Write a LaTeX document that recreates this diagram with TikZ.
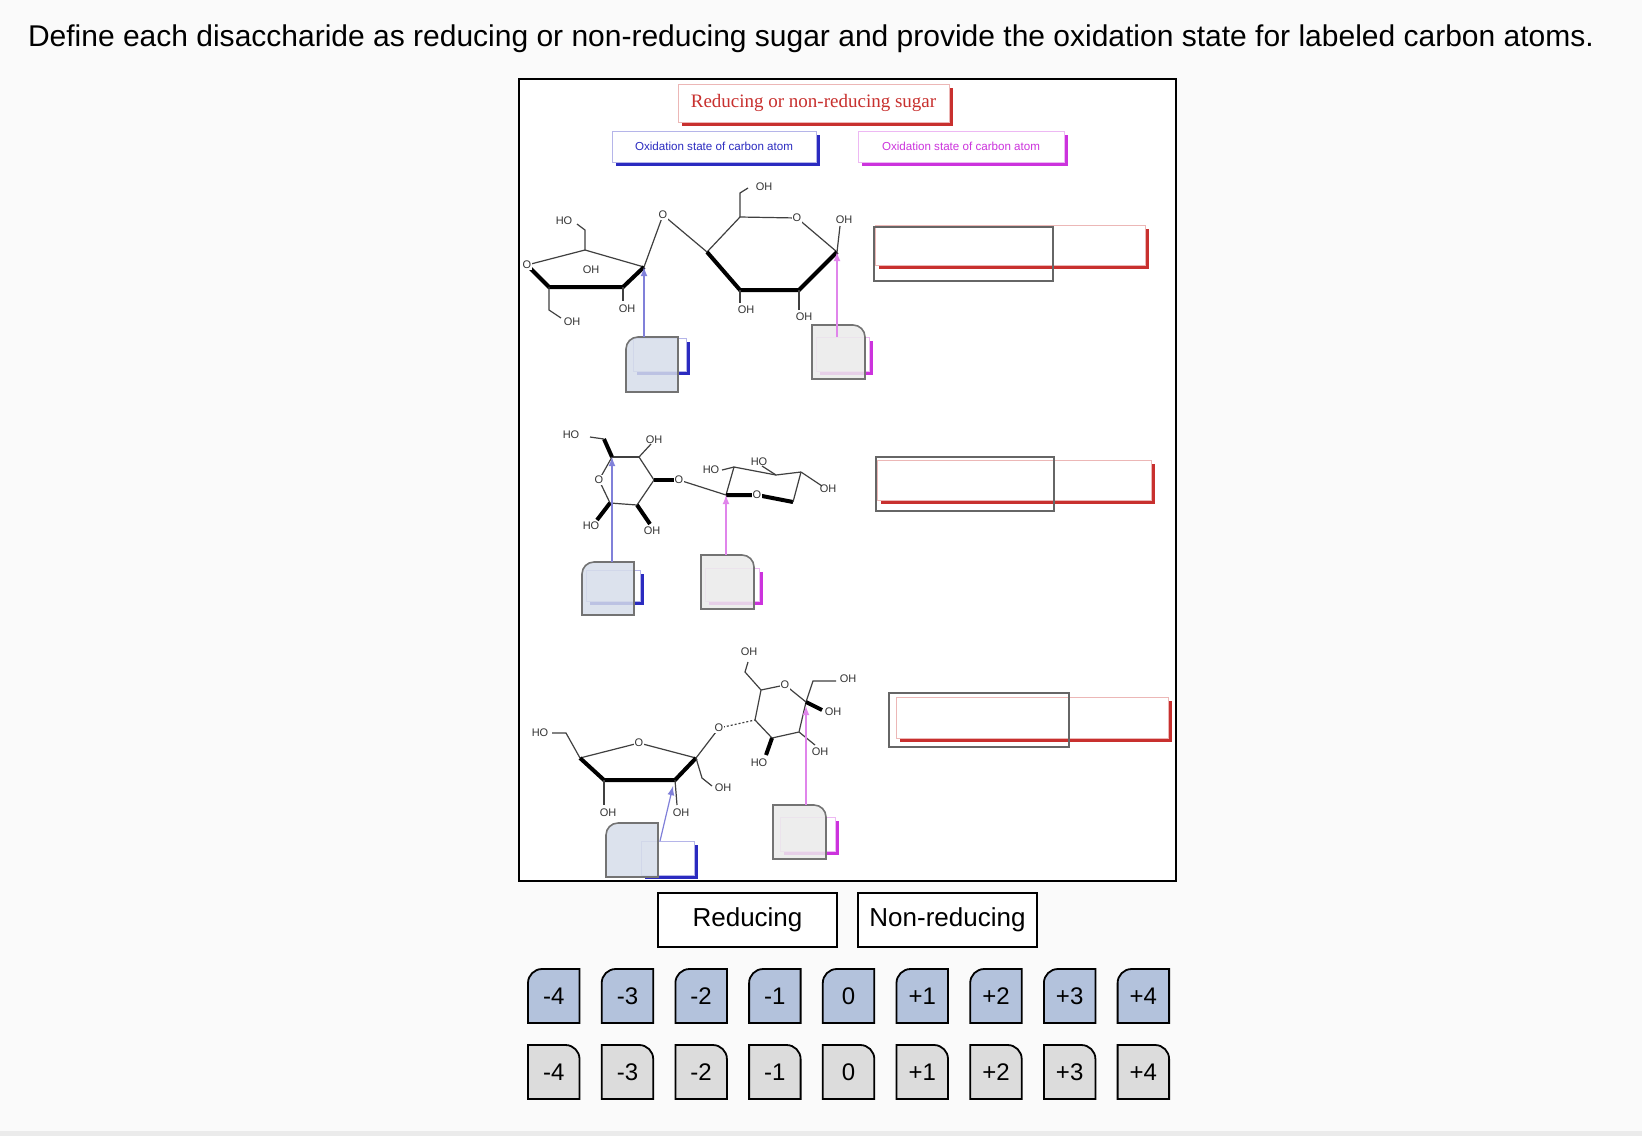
\documentclass[tikz,border=0pt]{standalone}
\usepackage{fontspec}
\setmainfont{Liberation Sans}
\newfontfamily\serifont{Liberation Serif}
\definecolor{bg}{HTML}{FAFAFA}
\definecolor{tileblue}{HTML}{B3C2DC}
\definecolor{tilegray}{HTML}{DCDCDC}
\definecolor{placeblue}{HTML}{D6DDEA}
\definecolor{placegray}{HTML}{EBEBEB}
\definecolor{rbox}{HTML}{C8302E}
\definecolor{bbox}{HTML}{2B2BC0}
\definecolor{mbox}{HTML}{CC33DD}
\tikzset{
  bond/.style={line width=0.6pt, black!75},
  bold/.style={line width=2pt, black},
  lab/.style={font=\fontsize{5.5}{6}\selectfont, inner sep=0.5pt, text=black!80},
  ptr b/.style={line width=0.6pt, bbox!60},
  ptr m/.style={line width=0.6pt, mbox!60},
  btn/.style={draw=black, line width=0.9pt, fill=white, font=\fontsize{13}{15}\selectfont},
  tile/.style={draw=black, line width=0.9pt},
}
\newcommand{\tileB}[5]{%
  \draw[tile,fill=tileblue] (#2,#5) [rounded corners=7pt]-- (#2,#3) [sharp corners]-- (#4,#3) -- (#4,#5) -- cycle;
  \coordinate (#1) at ({(#2+#4)/2},{(#3+#5)/2});}
\newcommand{\tileG}[5]{%
  \draw[tile,fill=tilegray] (#2,#5) -- (#2,#3) [rounded corners=7pt]-- (#4,#3) [sharp corners]-- (#4,#5) -- cycle;
  \coordinate (#1) at ({(#2+#4)/2},{(#3+#5)/2});}
\newcommand{\placeB}[5]{\draw[black!55,line width=0.8pt,fill=placeblue,fill opacity=0.85] (#2,#5) [rounded corners=6pt]-- (#2,#3) [sharp corners]-- (#4,#3) -- (#4,#5) -- cycle; \coordinate (#1) at ({(#2+#4)/2},#3);}
\newcommand{\placeG}[5]{\draw[black!55,line width=0.8pt,fill=placegray,fill opacity=0.85] (#2,#5) -- (#2,#3) [rounded corners=6pt]-- (#4,#3) [sharp corners]-- (#4,#5) -- cycle; \coordinate (#1) at ({(#2+#4)/2},#3);}
\newcommand{\shbox}[6]{%
  \fill[#2] (#3+3.5,#4+3.5) rectangle (#5+3.5,#6+3.5);
  \draw[#2!35,fill=white] (#3,#4) rectangle (#5,#6);
  \coordinate (#1) at ({(#3+#5)/2},{(#4+#6)/2});}
\begin{document}
\begin{tikzpicture}[x=0.5pt,y=-0.5pt]
\fill[bg] (0,0) rectangle (1642,1136);
\useasboundingbox (0,0) rectangle (1642,1136);
\fill[black!8] (0,1131) rectangle (1642,1136);
\node[font=\fontsize{15}{17}\selectfont] (title) at (811,39) {Define each disaccharide as reducing or non-reducing sugar and provide the oxidation state for labeled carbon atoms.};
\draw[fill=white,line width=1pt] (519,79) rectangle (1176,881);
% headers
\shbox{hr}{rbox}{678}{84}{949}{122}
\node[font=\serifont\fontsize{9.5}{11}\selectfont,text=rbox] at (hr) {Reducing or non-reducing sugar};
\shbox{hb}{bbox}{612}{131}{816}{162}
\node[font=\fontsize{5.8}{7}\selectfont,text=bbox] at (hb) {Oxidation state of carbon atom};
\shbox{hm}{mbox}{858}{131}{1064}{162}
\node[font=\fontsize{5.8}{7}\selectfont,text=mbox] at (hm) {Oxidation state of carbon atom};
% ===== molecule 1 =====
\coordinate (fO) at (527,265); \coordinate (fT) at (585,250); \coordinate (fR) at (644,267);
\coordinate (fBR) at (623,287); \coordinate (fBL) at (549,287);
\coordinate (bO) at (663,215);
\coordinate (p1) at (707,252); \coordinate (p2) at (740,217); \coordinate (pO) at (797,218);
\coordinate (pA) at (837,252); \coordinate (pBR) at (799,290); \coordinate (pBL) at (740,290);
\draw[bond] (fBL)--(fO)--(fT)--(fR)--(bO)--(p1)--(p2)--(pO)--(pA);
\draw[bold] (fR)--(fBR)--(fBL)--(fO);
\draw[bold] (p1)--(pBL)--(pBR)--(pA);
\draw[bond] (fT)--(585,230)--(577,224); \node[lab] at (564,221) {HO};
\node[lab] at (591,270) {OH};
\draw[bond] (fBR)--(623,301); \node[lab] at (627,309) {OH};
\draw[bond] (fBL)--(549,310)--(561,318); \node[lab] at (572,322) {OH};
\draw[bond] (p2)--(740,193)--(748,188); \node[lab] at (764,187) {OH};
\draw[bond] (pA)--(840,226); \node[lab] at (844,220) {OH};
\draw[bond] (pBR)--(799,310); \node[lab] at (804,317) {OH};
\draw[bond] (pBL)--(740,303); \node[lab] at (746,310) {OH};
\node[lab,fill=white] at (fO) {O}; \node[lab,fill=white] at (bO) {O}; \node[lab,fill=white] at (pO) {O};
\shbox{a1}{bbox}{633}{338}{686}{371}
\placeB{t1}{626}{337}{678}{392}
\draw[ptr b,-latex] (fR |- t1) -- (fR);
\shbox{a2}{mbox}{816}{337}{869}{371}
\placeG{t2}{812}{325}{865}{379}
\draw[ptr m,-latex] (pA |- 0,337) -- (pA);
\shbox{r1}{rbox}{875}{225}{1145}{265}
\draw[black!60,line width=0.8pt] (874,227) rectangle (1053,281);
% ===== molecule 2 =====
\coordinate (g5) at (612,457); \coordinate (g4) at (639,457); \coordinate (gO) at (599,480);
\coordinate (g1) at (610,503); \coordinate (g2) at (637,505); \coordinate (g3) at (654,480);
\coordinate (gbO) at (679,480);
\coordinate (x1) at (726,495); \coordinate (xO) at (757,495); \coordinate (x5) at (793,502);
\coordinate (x4) at (801,472); \coordinate (x3) at (776,475); \coordinate (x2) at (734,467);
\draw[bond] (g4)--(g5); \draw[bold] (g5)--(604,439); \draw[bond] (604,439)--(590,437); \node[lab] at (571,435) {HO};
\draw[bond] (g5)--(gO)--(g1)--(g2)--(g3)--(g4);
\draw[bond] (g4)--(651,444); \node[lab] at (654,440) {OH};
\draw[bold] (g3)--(gbO); \draw[bond] (gbO)--(x1);
\draw[bold] (g2)--(650,524); \node[lab] at (652,531) {OH};
\draw[bold] (g1)--(597,520); \node[lab] at (591,526) {HO};
\draw[bond] (x1)--(x2)--(x3)--(x4); \draw[bold] (x1)--(xO)--(x5); \draw[bond] (x5)--(x4);
\draw[bond] (x2)--(722,470); \node[lab] at (711,470) {HO};
\draw[bond] (x3)--(762,466); \node[lab] at (759,462) {HO};
\draw[bond] (x4)--(822,486); \node[lab] at (828,489) {OH};
\node[lab,fill=white] at (gO) {O}; \node[lab,fill=white] at (gbO) {O}; \node[lab,fill=white] at (xO) {O};
\shbox{a3}{bbox}{586}{570}{640}{601}
\placeB{t3}{582}{562}{634}{615}
\draw[ptr b,-latex] (g5 |- t3) -- (g5);
\shbox{a4}{mbox}{705}{568}{759}{601}
\placeG{t4}{701}{555}{754}{609}
\draw[ptr m,-latex] (x1 |- t4) -- (x1);
\shbox{r2}{rbox}{877}{460}{1151}{500}
\draw[black!60,line width=0.8pt] (876,457) rectangle (1054,511);
% ===== molecule 3 =====
\coordinate (hO) at (639,743); \coordinate (hL) at (580,758); \coordinate (hR) at (696,758);
\coordinate (hBR) at (675,780); \coordinate (hBL) at (604,780); \coordinate (hbO) at (719,728);
\coordinate (q4) at (755,720); \coordinate (q5) at (761,690); \coordinate (qO) at (785,685);
\coordinate (q2) at (806,702); \coordinate (q3) at (799,732); \coordinate (q4b) at (772,738);
\draw[bond] (hL)--(hO)--(hR)--(hbO);
\draw[bold] (hR)--(hBR)--(hBL)--(hL);
\draw[bond] (hL)--(566,733)--(552,733); \node[lab] at (540,733) {HO};
\draw[bond] (hBL)--(604,805); \node[lab] at (608,813) {OH};
\draw[bond] (hBR)--(677,805); \node[lab] at (681,813) {OH};
\draw[bond] (hR)--(702,778)--(712,786); \node[lab] at (723,788) {OH};
\draw[bond,dashed,dash pattern=on 1pt off 1pt] (hbO)--(q4);
\draw[bond] (q4)--(q5)--(qO)--(q2)--(q3)--(q4b)--(q4);
\draw[bold] (q4b)--(766,755); \node[lab] at (759,763) {HO};
\draw[bond] (q3)--(815,745); \node[lab] at (820,752) {OH};
\draw[bond] (q2)--(813,681)--(836,681); \node[lab] at (848,679) {OH};
\draw[bold] (q2)--(822,710); \node[lab] at (833,712) {OH};
\draw[bond] (q5)--(745,672)--(748,662); \node[lab] at (749,652) {OH};
\node[lab,fill=white] at (hO) {O}; \node[lab,fill=white] at (hbO) {O}; \node[lab,fill=white] at (qO) {O};
\shbox{a5}{bbox}{641}{841}{694}{875}
\placeB{t5}{606}{823}{658}{877}
\coordinate (t5p) at (660,841);
\coordinate (c5p) at (673,786);
\draw[ptr b,-latex] (t5p) -- (c5p);
\shbox{a6}{mbox}{780}{817}{835}{851}
\placeG{t6}{773}{805}{826}{859}
\coordinate (c6p) at (806,706);
\draw[ptr m,-latex] (c6p |- t6) -- (c6p);
\shbox{r3}{rbox}{896}{697}{1168}{738}
\draw[black!60,line width=0.8pt] (889,693) rectangle (1069,747);
% ===== bank =====
\node[btn,minimum width=89.5pt,minimum height=27pt] (red) at (747.5,920) {Reducing};
\node[btn,minimum width=89.5pt,minimum height=27pt] (nonred) at (947.5,920) {Non-reducing};
\foreach \v [count=\i from 0] in {-4,-3,-2,-1,0,+1,+2,+3,+4}{
  \pgfmathsetmacro{\xa}{528+\i*73.7}
  \pgfmathsetmacro{\xb}{\xa+51.5}
  \tileB{bt\i}{\xa}{969}{\xb}{1023}
  \node[font=\fontsize{12}{14}\selectfont] at ({(\xa+\xb)/2},996) {\v};
  \tileG{gt\i}{\xa}{1045}{\xb}{1099}
  \node[font=\fontsize{12}{14}\selectfont] at ({(\xa+\xb)/2},1072) {\v};
}
\end{tikzpicture}
\end{document}
